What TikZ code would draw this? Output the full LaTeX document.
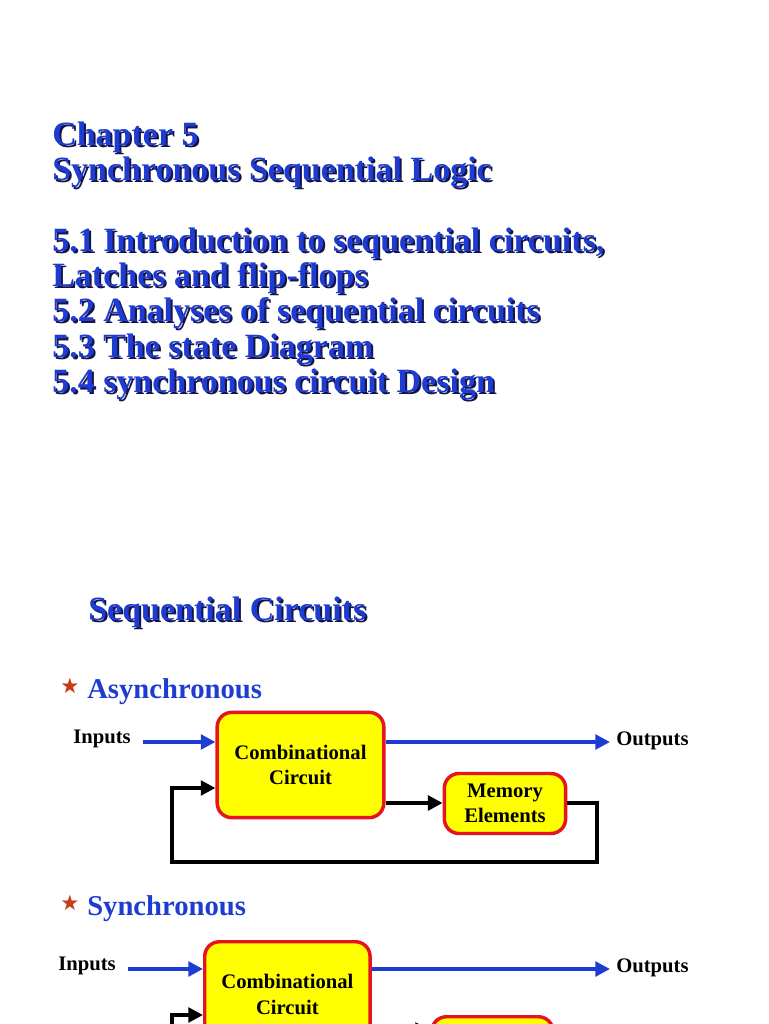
\documentclass[tikz,border=0pt]{standalone}
\usepackage{fontspec}
\setmainfont{Liberation Serif}
\newfontfamily\symfont{DejaVu Sans}
\usetikzlibrary{arrows.meta}
\definecolor{tblue}{RGB}{30,60,210}
\definecolor{tshadow}{RGB}{20,20,70}
\definecolor{boxred}{RGB}{230,20,30}
\definecolor{boxyel}{RGB}{255,255,0}
\definecolor{starred}{RGB}{200,60,20}
\begin{document}
\begin{tikzpicture}[x=0.75pt,y=-0.75pt,
  title/.style={font=\fontsize{25.5}{27}\selectfont\bfseries,anchor=base west,inner sep=0},
  sub/.style={font=\fontsize{21.5}{24}\selectfont\bfseries,text=tblue,anchor=base west,inner sep=0},
  star/.style={text=starred,font=\symfont\fontsize{16}{16}\selectfont,inner sep=0},
  blk/.style={draw=boxred,fill=boxyel,line width=2.6pt,rounded corners=11pt,align=center,font=\fontsize{15.5}{19}\selectfont\bfseries},
  lbl/.style={font=\fontsize{15.5}{16}\selectfont\bfseries,anchor=base west,inner sep=0},
  barr/.style={draw=tblue,line width=2.6pt,-{Triangle[length=11pt,width=11pt]}},
  karr/.style={draw=black,line width=2.6pt,-{Triangle[length=11pt,width=11pt]}}]
\useasboundingbox (0,0) rectangle (768,1024);
\clip (0,0) rectangle (768,1024);
\foreach \t/\y [count=\i] in {Chapter 5/145,Synchronous Sequential Logic/180,{5.1 Introduction to sequential circuits,}/251,Latches and flip-flops/286,5.2 Analyses of sequential circuits/321,5.3 The state Diagram/357,5.4 synchronous circuit Design/392}{
  \node[title,text=tshadow] at (54,\y+2) {\t};
  \node[title,text=tblue] (t\i) at (52,\y) {\t};
}
\node[title,text=tshadow] at (90,622) {Sequential Circuits};
\node[title,text=tblue] (sc) at (88,620) {Sequential Circuits};
% Asynchronous
\node[star] (s1) at (70,686) {★};
\node[sub] (as) at (87,698) {Asynchronous};
\node[blk,minimum width=125pt,minimum height=79pt] (c1) at (300.5,765) {Combinational\\Circuit};
\node[blk,minimum width=91pt,minimum height=45pt] (m1) at (505,803.5) {Memory\\Elements};
\node[lbl] (in1) at (73,743) {Inputs};
\node[lbl] (out1) at (616,745) {Outputs};
\coordinate (a1) at (143,742);
\draw[barr] (a1) -- (c1.west |- a1);
\draw[barr] (c1.east |- a1) -- (610,742) coordinate (o1);
\draw[karr] (c1.east |- 0,803) -- (m1.west |- 0,803);
\draw[karr] (m1.east |- 0,803) -- (597,803) -- (597,862) -- (172,862) -- (172,788) -- (c1.west |- 0,788);
% Synchronous
\node[star] (s2) at (70,903) {★};
\node[sub] (sy) at (87,915) {Synchronous};
\node[blk,minimum width=124pt,minimum height=79pt,anchor=north west] (c2) at (203,940) {Combinational\\Circuit};
\node[blk,minimum width=91pt,minimum height=45pt,anchor=north west] (m2) at (430,1015) {};
\node[lbl] (in2) at (58,970) {Inputs};
\node[lbl] (out2) at (616,972) {Outputs};
\coordinate (a2) at (128,969);
\draw[barr] (a2) -- (c2.west |- a2);
\draw[barr] (c2.east |- a2) -- (610,969) coordinate (o2);
\draw[karr] (172,1040) -- (172,1015) -- (c2.west |- 0,1015);
\draw[karr] (c2.east |- 0,1030) -- (m2.west |- 0,1030);
\end{tikzpicture}
\end{document}
